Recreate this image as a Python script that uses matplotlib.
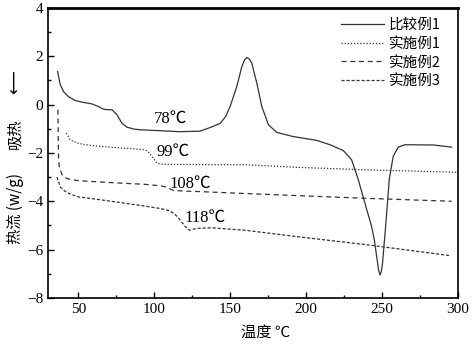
import numpy as np
import matplotlib
matplotlib.use('Agg')
import matplotlib.pyplot as plt
from matplotlib.ticker import MultipleLocator

plt.rcParams['font.family'] = ['Liberation Serif', 'Noto Sans CJK SC']

# curve points (temperature C, heat flow W/g)
cmp1_t = [36.4, 38.2, 40.3, 43.6, 48, 53.5, 59, 63.4, 66.6, 69.5, 72.2, 75.5, 78.8, 82, 86.4,
          90.8, 104, 117, 130, 136.8, 143.4, 147, 150, 154.4, 157.7, 159.5, 161, 162.5, 164.3,
          167.6, 170.9, 175.2, 180.7, 191.4, 207, 215.8, 224.5, 230, 234.4, 240, 243, 245,
          246.5, 247.8, 248.7, 249.6, 250.4, 252.6, 254.8, 257.4, 260.7, 265.1, 283.8, 295.9]
cmp1_q = [1.37, 0.82, 0.54, 0.33, 0.17, 0.09, 0.03, -0.08, -0.19, -0.21, -0.21, -0.42, -0.77,
          -0.93, -1.01, -1.04, -1.08, -1.12, -1.10, -0.95, -0.78, -0.5, -0.08, 0.75, 1.57, 1.85,
          1.95, 1.9, 1.71, 0.89, -0.08, -0.83, -1.15, -1.32, -1.48, -1.66, -1.9, -2.28, -3.1,
          -4.35, -5.0, -5.6, -6.28, -6.85, -7.05, -6.9, -6.55, -4.9, -3.1, -2.14, -1.76, -1.66,
          -1.67, -1.76]

ex1_t = [42.1, 44.7, 49.1, 55, 64.5, 77, 90.8, 94, 96.5, 98.5, 101.8, 104, 107.2, 130, 160,
         196, 240, 299]
ex1_q = [-1.18, -1.45, -1.59, -1.66, -1.73, -1.79, -1.85, -1.87, -1.98, -2.14, -2.42, -2.46,
         -2.47, -2.48, -2.49, -2.6, -2.7, -2.8]

ex2_t = [36.6, 36.8, 37.0, 37.5, 39.3, 41.4, 43.6, 48, 53.5, 64, 75, 94, 104, 108.3, 110.5,
         112.7, 120, 130.3, 152.2, 196, 240, 296]
ex2_q = [-0.21, -1.2, -2.2, -2.56, -2.9, -3.02, -3.08, -3.13, -3.16, -3.2, -3.24, -3.3, -3.36,
         -3.41, -3.49, -3.55, -3.58, -3.6, -3.66, -3.77, -3.88, -4.0]

ex3_t = [36.0, 38.2, 41.4, 44, 46.9, 50.2, 57.9, 75, 94, 104, 109.4, 113, 116, 120.4, 122.5,
         123.7, 126, 129.1, 138, 160, 196, 240, 294.7]
ex3_q = [-3.0, -3.41, -3.59, -3.68, -3.75, -3.82, -3.88, -4.03, -4.2, -4.3, -4.38, -4.5, -4.69,
         -5.04, -5.17, -5.2, -5.15, -5.12, -5.1, -5.2, -5.48, -5.8, -6.25]

labels = ['比较例1', '实施例1', '实施例2', '实施例3']
notes = ['78℃', '99℃', '108℃', '118℃']
note_x = [111, 112.5, 123.7, 133.5]
note_y = [-0.59, -1.96, -3.28, -4.7]

fig = plt.figure(figsize=(4.74, 3.48), dpi=100)
ax = fig.add_axes([0.101, 0.144, 0.865, 0.833])

c = '#333333'
ax.plot(cmp1_t, cmp1_q, '-', color=c, lw=0.9, label=labels[0])
ax.plot(ex1_t, ex1_q, linestyle=(0, (1, 1.5)), color=c, lw=0.9, label=labels[1])
ax.plot(ex2_t, ex2_q, linestyle=(0, (4, 3)), color=c, lw=0.9, label=labels[2])
ax.plot(ex3_t, ex3_q, linestyle=(0, (2.5, 1.5)), color=c, lw=0.9, label=labels[3])

for s, x, y in zip(notes, note_x, note_y):
    ax.text(x, y, s, fontsize=12, ha='center', va='center')

ax.set_xlim(30, 300)
ax.set_ylim(-8, 4)
ax.xaxis.set_major_locator(MultipleLocator(50))
ax.xaxis.set_minor_locator(MultipleLocator(25))
ax.yaxis.set_major_locator(MultipleLocator(2))
ax.yaxis.set_minor_locator(MultipleLocator(1))
ax.tick_params(which='both', direction='in', labelsize=11, width=1)
ax.tick_params(which='major', length=4)
ax.tick_params(which='minor', length=2.5)
ax.set_xticks([50, 100, 150, 200, 250, 300])
for sp in ax.spines.values():
    sp.set_linewidth(1.2)
ax.spines['top'].set_linewidth(2)

leg = ax.legend(loc='upper right', frameon=False, prop={'family': ['Noto Sans CJK SC'], 'size': 10.5},
                handlelength=3.0, handletextpad=0.3, labelspacing=0.32,
                bbox_to_anchor=(0.99, 1.01))

fig.text(0.56, 0.045, '温度 ℃', fontsize=11, ha='center', va='center',
         family=['Noto Sans CJK SC'])
fig.text(0.032, 0.40, '热流 (w/g)', fontsize=11, ha='center', va='center', rotation=90,
         family=['Noto Sans CJK SC', 'DejaVu Sans'])
fig.text(0.032, 0.615, '吸热', fontsize=11, ha='center', va='center', rotation=90,
         family=['Noto Sans CJK SC'])
fig.text(0.032, 0.765, '⟵', fontsize=12, ha='center', va='center', rotation=90,
         family=['DejaVu Sans'])

fig.savefig('out.png', dpi=100)
